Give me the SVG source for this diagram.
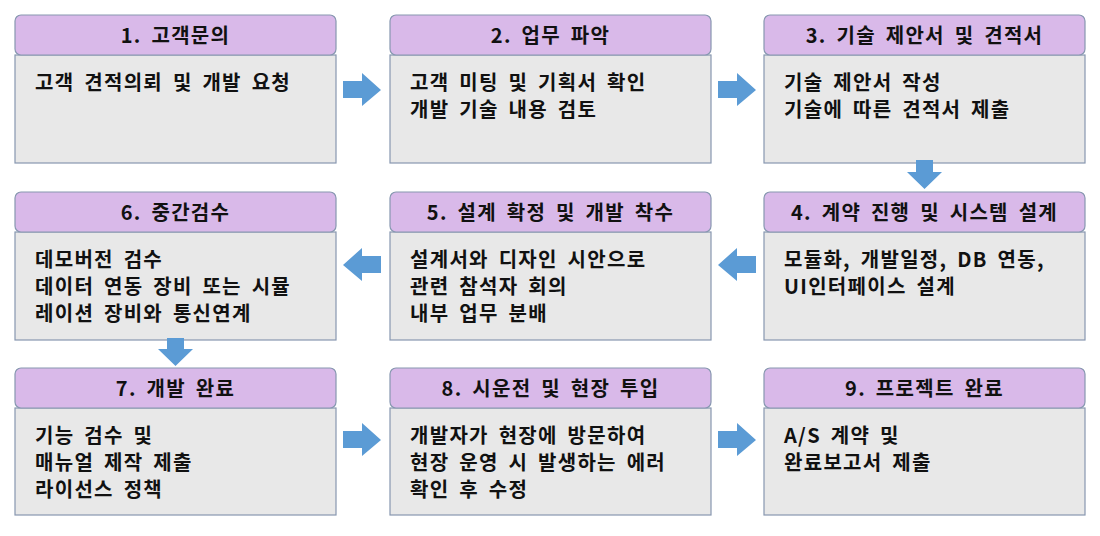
<svg xmlns="http://www.w3.org/2000/svg" width="1100" height="536" viewBox="0 0 1100 536">
<style>
.hd{fill:#d9b9e9;stroke:#8797b0;stroke-width:1.2}
.bd{fill:#e8e8e8;stroke:#8797b0;stroke-width:1.2}
text{font-family:"Noto Sans CJK KR","Noto Sans",sans-serif;font-weight:bold;font-size:20px;letter-spacing:1.3px;word-spacing:4px;fill:#111}
.t{text-anchor:middle}
.ar{fill:#5b9bd5}
</style>
<rect width="1100" height="536" fill="#fff"/>
<g id="n1"><rect class="bd" x="15" y="55" width="321" height="108"/><rect class="hd" x="15" y="15" width="321" height="40" rx="6"/><text class="t" x="175.5" y="43">1. 고객문의</text><text x="35" y="90">고객 견적의뢰 및 개발 요청</text></g>
<g id="n2"><rect class="bd" x="390" y="55" width="321" height="108"/><rect class="hd" x="390" y="15" width="321" height="40" rx="6"/><text class="t" x="550.5" y="43">2. 업무 파악</text><text x="410" y="90">고객 미팅 및 기획서 확인</text><text x="410" y="117">개발 기술 내용 검토</text></g>
<g id="n3"><rect class="bd" x="764" y="55" width="321" height="108"/><rect class="hd" x="764" y="15" width="321" height="40" rx="6"/><text class="t" x="924.5" y="43">3. 기술 제안서 및 견적서</text><text x="784" y="90">기술 제안서 작성</text><text x="784" y="117">기술에 따른 견적서 제출</text></g>
<g id="n4"><rect class="bd" x="764" y="232" width="321" height="108"/><rect class="hd" x="764" y="192" width="321" height="40" rx="6"/><text class="t" x="924.5" y="220">4. 계약 진행 및 시스템 설계</text><text x="784" y="267">모듈화, 개발일정, DB 연동,</text><text x="784" y="294">UI인터페이스 설계</text></g>
<g id="n5"><rect class="bd" x="390" y="232" width="321" height="108"/><rect class="hd" x="390" y="192" width="321" height="40" rx="6"/><text class="t" x="550.5" y="220">5. 설계 확정 및 개발 착수</text><text x="410" y="267">설계서와 디자인 시안으로</text><text x="410" y="294">관련 참석자 회의</text><text x="410" y="321">내부 업무 분배</text></g>
<g id="n6"><rect class="bd" x="15" y="232" width="321" height="108"/><rect class="hd" x="15" y="192" width="321" height="40" rx="6"/><text class="t" x="175.5" y="220">6. 중간검수</text><text x="35" y="267">데모버전 검수</text><text x="35" y="294">데이터 연동 장비 또는 시뮬</text><text x="35" y="321">레이션 장비와 통신연계</text></g>
<g id="n7"><rect class="bd" x="15" y="408" width="321" height="107"/><rect class="hd" x="15" y="368" width="321" height="40" rx="6"/><text class="t" x="175.5" y="396">7. 개발 완료</text><text x="35" y="443">기능 검수 및</text><text x="35" y="470">매뉴얼 제작 제출</text><text x="35" y="497">라이선스 정책</text></g>
<g id="n8"><rect class="bd" x="390" y="408" width="321" height="107"/><rect class="hd" x="390" y="368" width="321" height="40" rx="6"/><text class="t" x="550.5" y="396">8. 시운전 및 현장 투입</text><text x="410" y="443">개발자가 현장에 방문하여</text><text x="410" y="470">현장 운영 시 발생하는 에러</text><text x="410" y="497">확인 후 수정</text></g>
<g id="n9"><rect class="bd" x="764" y="408" width="321" height="107"/><rect class="hd" x="764" y="368" width="321" height="40" rx="6"/><text class="t" x="924.5" y="396">9. 프로젝트 완료</text><text x="784" y="443">A/S 계약 및</text><text x="784" y="470">완료보고서 제출</text></g>
<g id="connectors">
<polygon class="ar" points="343,81 362,81 362,73 381,90 362,106 362,98 343,98"/>
<polygon class="ar" points="718,81 737,81 737,73 756,90 737,106 737,98 718,98"/>
<polygon class="ar" points="916,160 933,160 933,172 942,172 924.5,189 907,172 916,172"/>
<polygon class="ar" points="756,256 737,256 737,248 718,265 737,281 737,273 756,273"/>
<polygon class="ar" points="381,256 362,256 362,248 343,265 362,281 362,273 381,273"/>
<polygon class="ar" points="167,338 184,338 184,349 193,349 175.5,366 158,349 167,349"/>
<polygon class="ar" points="343,431 362,431 362,423 381,440 362,456 362,448 343,448"/>
<polygon class="ar" points="718,431 737,431 737,423 756,440 737,456 737,448 718,448"/>
</g>
</svg>
